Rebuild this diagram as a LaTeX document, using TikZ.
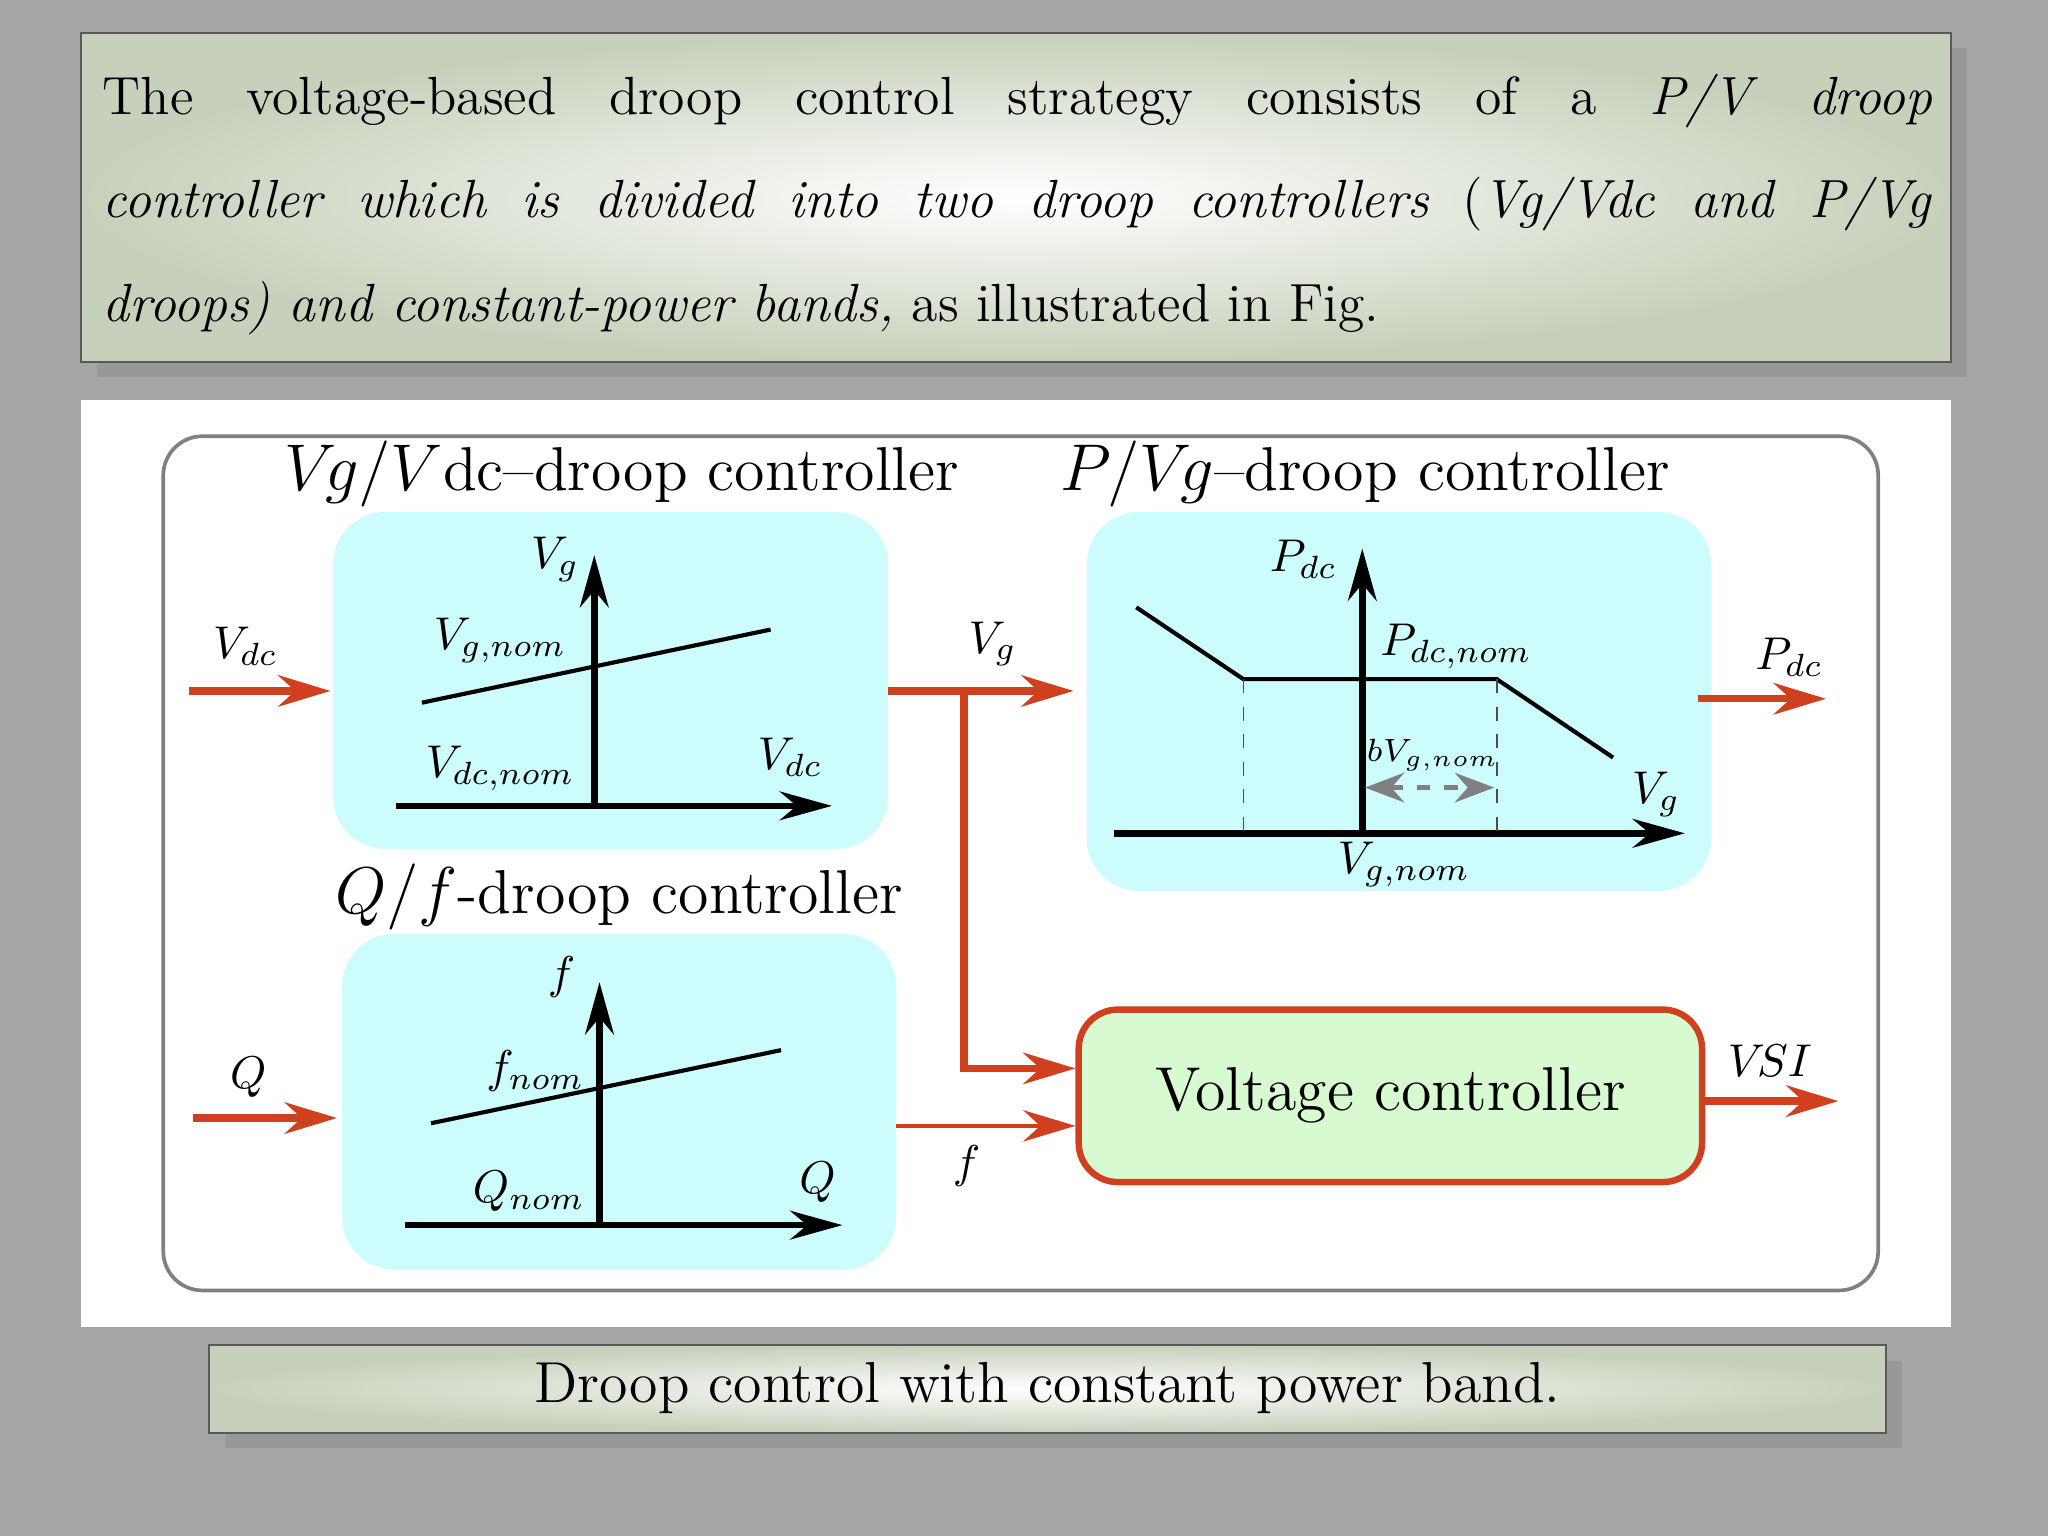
\documentclass[tikz,border=0pt]{standalone}
\usepackage{amsmath}
\usepackage{xcolor}
\usepackage{tikz}
\usetikzlibrary{arrows.meta, positioning, shadows}

\definecolor{slidegray}{HTML}{A6A6A6}
\definecolor{sage}{HTML}{BCC8AE}
\definecolor{plotcyan}{HTML}{CCFCFC}
\definecolor{wirered}{HTML}{D0401E}
\definecolor{ctrlgreen}{HTML}{D8FAD0}

\begin{document}
\begin{tikzpicture}[
x=0.01cm, y=-0.01cm,
>=Stealth,
banner/.style={draw=gray!70!black, inner color=white, outer color=sage!85, drop shadow={shadow xshift=1.2mm, shadow yshift=-1.2mm, fill=black!45}},
plotbox/.style={fill=plotcyan, rounded corners=4mm},
axis/.style={line width=1.4pt, -{Stealth[length=4mm, width=2.2mm]}},
curve/.style={line width=0.9pt},
wire/.style={wirered, line width=1.6pt, -{Stealth[length=4mm, width=2.4mm]}},
label/.style={font=\normalsize},
title/.style={font=\fontsize{13.5}{15}\selectfont}
]

% background and panels
\fill[slidegray] (0,0) rectangle (1568,1176);
\useasboundingbox (0,0) rectangle (1568,1176);
\path[banner] (62,25) rectangle (1494,277);
\node[anchor=north west, text width=14.0cm, align=justify, font=\fontsize{11.7}{22.5}\selectfont, inner sep=0pt] (intro) at (78,56)
  {The voltage-based droop control strategy consists of a \textit{P/V droop}\linebreak
   \textit{controller which is divided into two droop controllers} (\textit{Vg/Vdc and P/Vg}\linebreak
   \textit{droops) and constant-power bands,} as illustrated in Fig.};
\fill[white] (62,306) rectangle (1494,1016);
\draw[gray, line width=0.8pt, rounded corners=3mm] (125,334) rectangle (1438,988);

% plot boxes
\fill[plotbox] (255,392) rectangle (680,650);
\fill[plotbox] (832,392) rectangle (1310,682);
\fill[plotbox] (262,715) rectangle (686,972);
\node[title] (t1) at (476,363) {$V\!g/V$dc--droop controller};
\node[title] (t2) at (1045,363) {$P/V\!g$--droop controller};
\node[title] (t3) at (474,687) {$Q/f$-droop controller};

% Vg/Vdc plot
\draw[axis] (455,618) -- (455,425);
\draw[axis] (303,617) -- (637,617);
\draw[curve] (323,538) -- (590,482);
\node[label] at (425,428) {$V_g$};
\node[label] at (383,490) {$V_{g,nom}$};
\node[label] at (383,588) {$V_{dc,nom}$};
\node[label] at (605,580) {$V_{dc}$};

% P/Vg plot
\draw[axis] (1043,640) -- (1043,420);
\draw[axis] (853,638) -- (1290,638);
\draw[curve] (870,465) -- (952,520) -- (1146,520) -- (1235,580);
\draw[dashed, gray!60!black] (952,520) -- (952,638) (1146,520) -- (1146,638);
\draw[gray, line width=1.2pt, dashed, {Stealth[length=3mm]}-{Stealth[length=3mm]}] (1045,603) -- (1144,603);
\node[font=\scriptsize] at (1097,578) {$bV_{g,nom}$};
\node[label] at (998,428) {$P_{dc}$};
\node[label] at (1115,495) {$P_{dc,nom}$};
\node[label] at (1268,608) {$V_g$};
\node[label] at (1075,662) {$V_{g,nom}$};

% Q/f plot
\draw[axis] (459,938) -- (459,752);
\draw[axis] (310,938) -- (645,938);
\draw[curve] (330,860) -- (598,804);
\node[label] at (430,748) {$f$};
\node[label] at (410,820) {$f_{nom}$};
\node[label] at (405,912) {$Q_{nom}$};
\node[label] at (626,905) {$Q$};

% voltage controller
\node[draw=wirered, line width=1.4pt, fill=ctrlgreen, rounded corners=3mm, minimum width=4.77cm, minimum height=1.32cm, font=\fontsize{13.5}{15}\selectfont] (vc) at (1064.5,839) {Voltage controller};

% connectors
\coordinate (vdcin) at (145,529);
\coordinate (qin) at (148,856);
\coordinate (vgout) at (680,529);
\coordinate (vgin) at (822,529);
\coordinate (split) at (738,529);
\coordinate (fout) at (686,862);
\coordinate (pdcout) at (1300,535);
\coordinate (pdcend) at (1398,535);
\draw[wire] (vdcin) -- (253,529);
\draw[wire] (qin) -- (258,856);
\draw[wire] (vgout) -- (vgin);
\draw[wire] (split) |- (vc.west |- 0,818);
\draw[wirered, line width=0.9pt, -{Stealth[length=4mm, width=2.4mm]}] (fout) -- (vc.west |- fout);
\draw[wire] (pdcout) -- (pdcend);
\draw[wire] (vc.east |- 0,843) -- ++(102,0);
\node[label] at (188,495) {$V_{dc}$};
\node[label] at (190,825) {$Q$};
\node[label] at (760,493) {$V_g$};
\node[label] at (740,893) {$f$};
\node[label] at (1370,503) {$P_{dc}$};
\node[label] at (1355,812) {$V\!SI$};

% caption
\path[banner] (160,1030) rectangle (1444,1097);
\node[font=\fontsize{12.6}{14}\selectfont] (caption) at (802,1063) {Droop control with constant power band.};
\end{tikzpicture}
\end{document}
